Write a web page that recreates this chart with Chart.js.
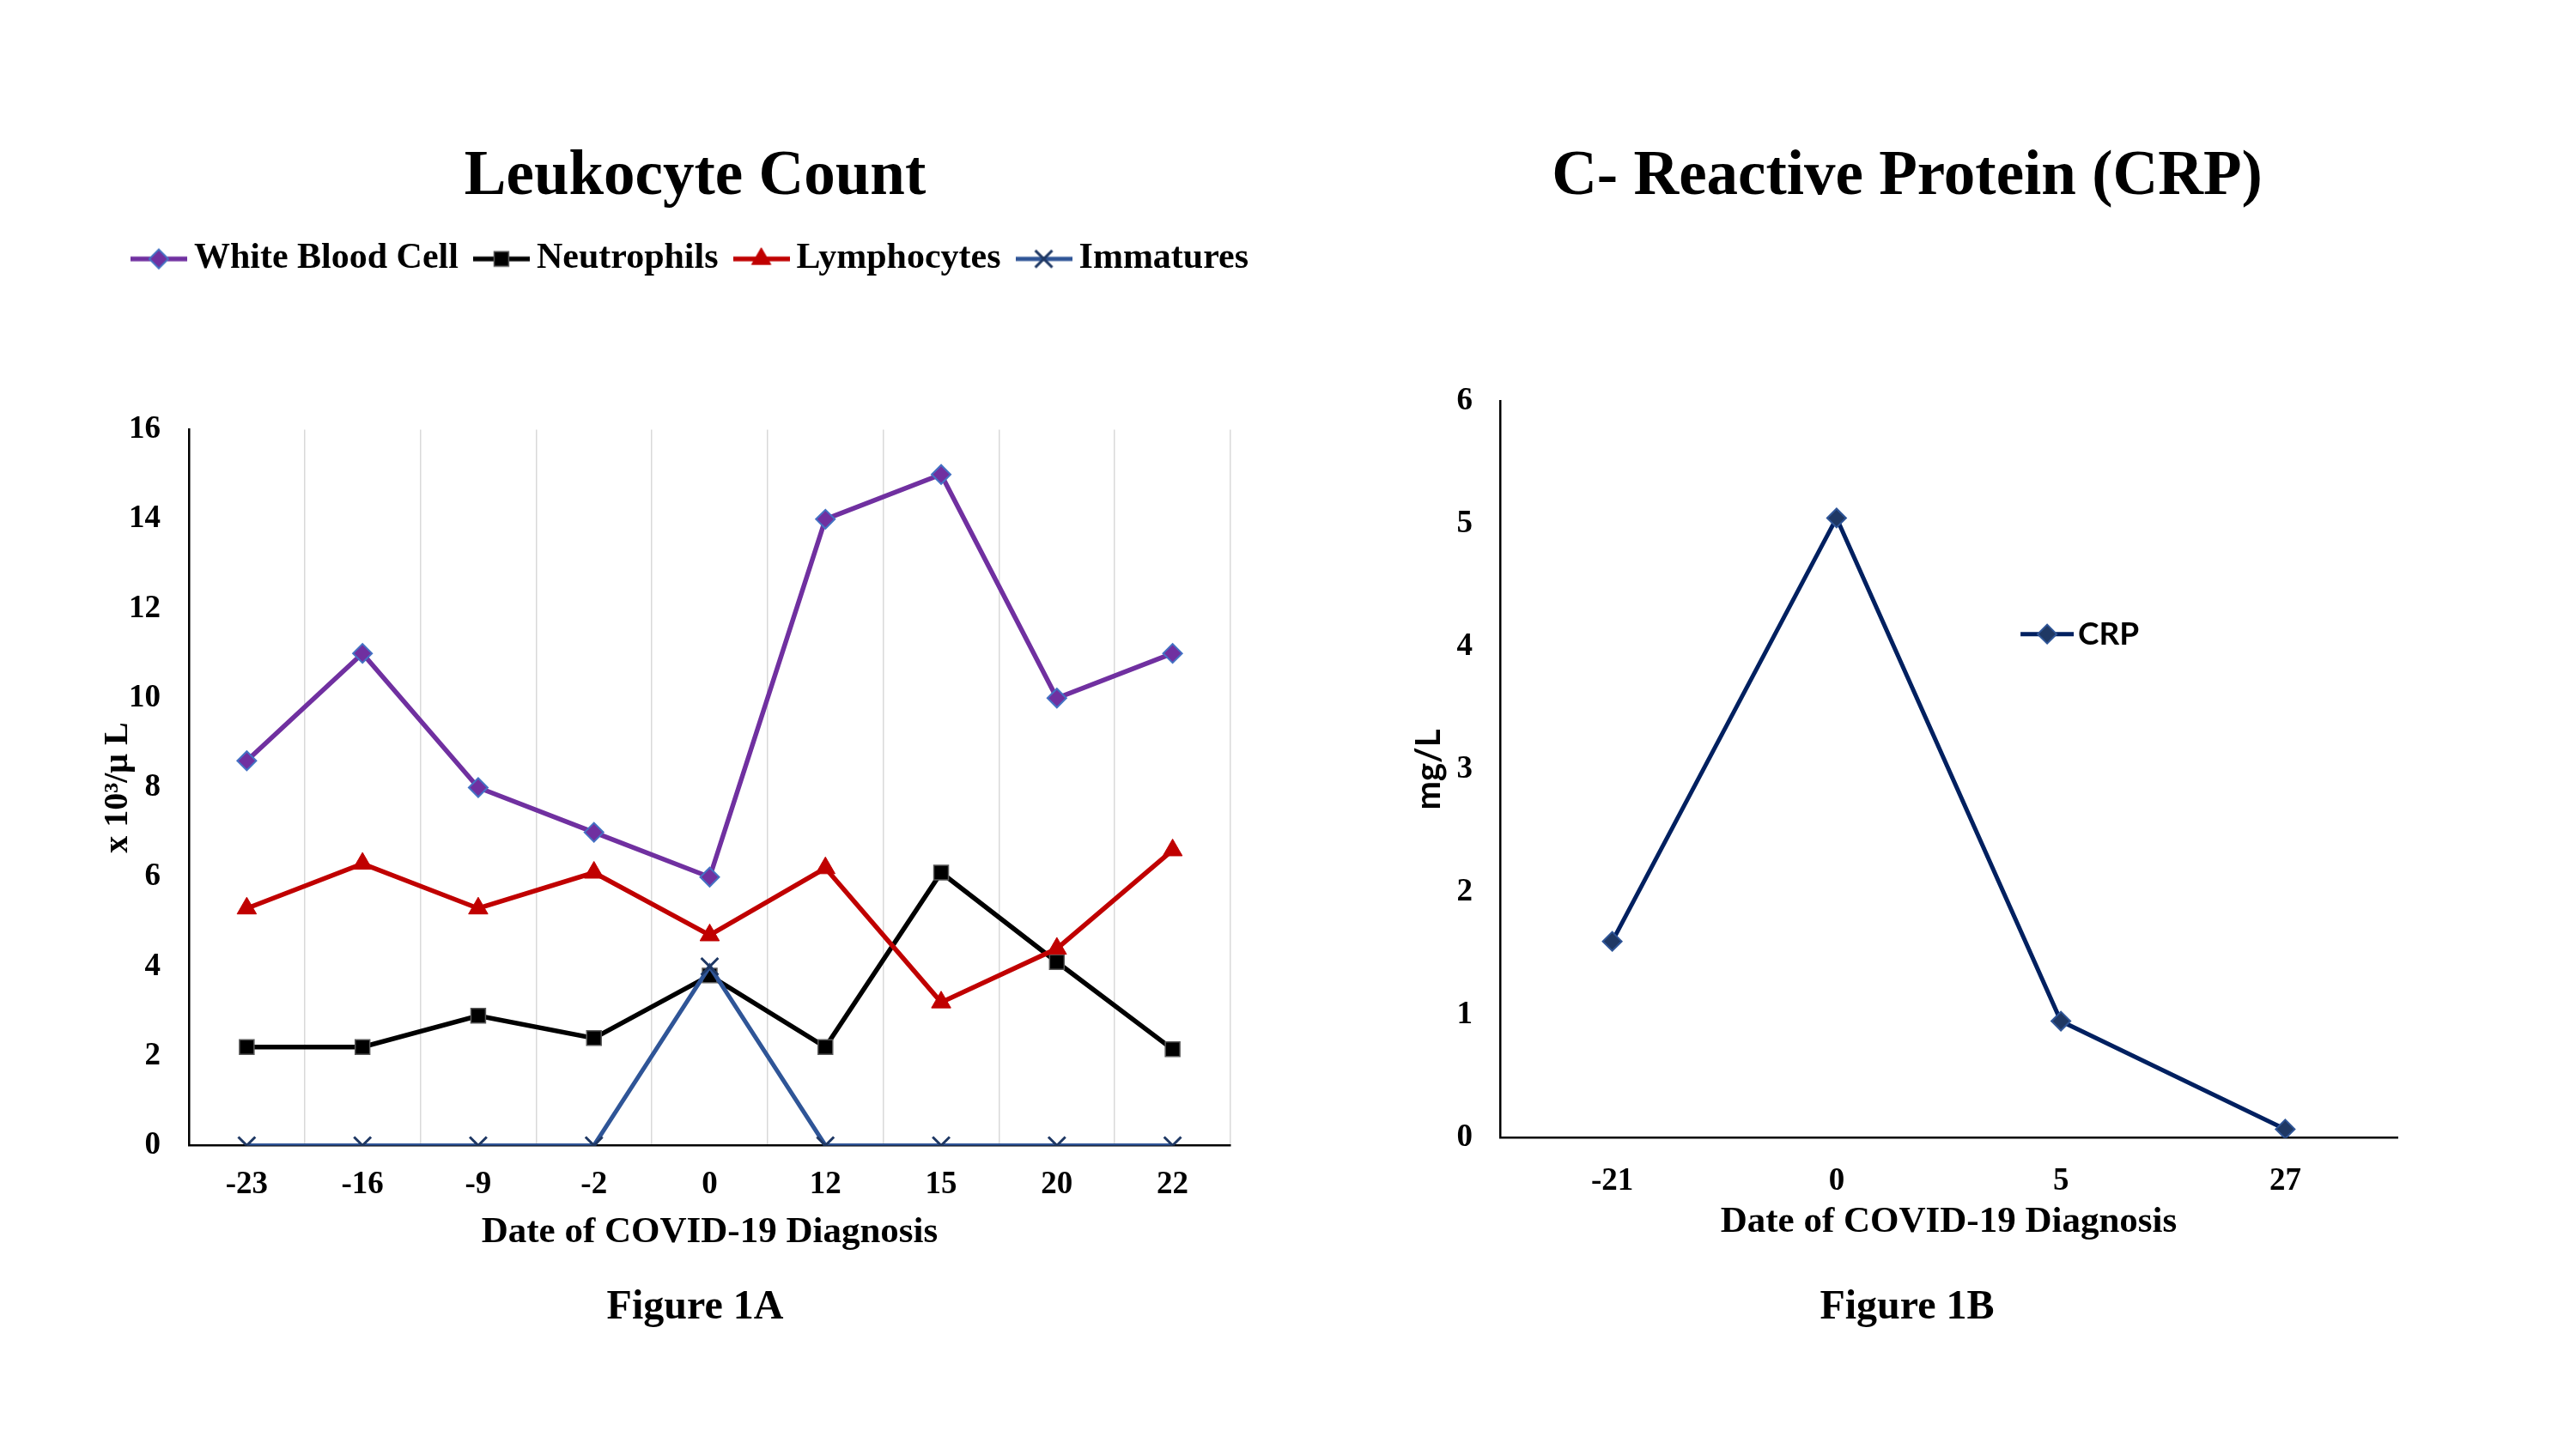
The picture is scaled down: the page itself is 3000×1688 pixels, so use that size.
<!DOCTYPE html>
<html>
<head>
<meta charset="utf-8">
<title>Leukocyte Count and C- Reactive Protein</title>
<script src="https://cdn.jsdelivr.net/npm/chart.js"></script>
<style>
  html, body { margin: 0; padding: 0; background: #fff; }
  body { width: 3000px; height: 1688px; position: relative; overflow: hidden; }
  canvas { position: absolute; top: 0; }
  #leuko { left: 110px; }
  #crp { left: 1636px; }
</style>
</head>
<body>
<canvas id="leuko" width="1399" height="1552"></canvas>
<canvas id="crp" width="1170" height="1552"></canvas>
<script>
// Figure 1A - leukocyte counts (x 10^3 / uL)
const days = ['-23', '-16', '-9', '-2', '0', '12', '15', '20', '22'];
const wbc = [8.6, 11, 8, 7, 6, 14, 15, 10, 11];
const neutrophils = [2.2, 2.2, 2.9, 2.4, 3.8, 2.2, 6.1, 4.1, 2.15];
const lymphocytes = [5.3, 6.3, 5.3, 6.1, 4.7, 6.2, 3.2, 4.4, 6.6];
const immatures = [0, 0, 0, 0, 4, 0, 0, 0, 0];
const leukoMax = 16, leukoStep = 2;

// Figure 1B - CRP (mg/L)
const crpDays = ['-21', '0', '5', '27'];
const crp = [1.6, 5.05, 0.95, 0.07];
const crpMax = 6, crpStep = 1;

Chart.defaults.font.family = "'Liberation Serif', 'Times New Roman', serif";
Chart.defaults.font.weight = 'bold';
Chart.defaults.color = '#000';

// empty layout box, pushes the plot area away from the legend / right edge
function spacer(position, size) {
  return {
    id: 'spacer-' + position,
    beforeInit(chart) {
      Chart.layouts.addBox(chart, {
        position: position,
        weight: 500,
        options: {},
        fullSize: position === 'top',
        isHorizontal: () => position === 'top' || position === 'bottom',
        update(maxWidth, maxHeight) {
          if (this.isHorizontal()) { this.width = maxWidth; this.height = size; }
          else { this.width = size; this.height = maxHeight; }
        },
        draw() {}
      });
    }
  };
}

// excel-like legend swatch: line with the marker on it
function swatch(ds) {
  const c = document.createElement('canvas');
  c.width = 66; c.height = 32;
  const g = c.getContext('2d');
  g.strokeStyle = ds.borderColor;
  g.lineWidth = ds.borderWidth;
  g.beginPath(); g.moveTo(0, 16); g.lineTo(66, 16); g.stroke();
  g.fillStyle = ds.pointBackgroundColor;
  g.strokeStyle = ds.pointBorderColor;
  g.lineWidth = ds.pointBorderWidth;
  Chart.helpers.drawPoint(g, { pointStyle: ds.pointStyle, radius: ds.pointRadius, borderWidth: ds.pointBorderWidth, rotation: 0 }, 33, 16);
  return c;
}

new Chart(document.getElementById('leuko'), {
  type: 'line',
  data: {
    labels: days,
    datasets: [
      { label: 'White Blood Cell', data: wbc, order: 4, borderColor: '#7030A0', borderWidth: 5.5,
        pointStyle: 'rectRot', pointRadius: 11, pointBackgroundColor: '#7030A0', pointBorderColor: '#4472C4', pointBorderWidth: 2 },
      { label: 'Neutrophils', data: neutrophils, order: 3, borderColor: '#000000', borderWidth: 5.5,
        pointStyle: 'rect', pointRadius: 12, pointBackgroundColor: '#000000', pointBorderColor: '#595959', pointBorderWidth: 1.5 },
      { label: 'Lymphocytes', data: lymphocytes, order: 2, borderColor: '#C00000', borderWidth: 5.5,
        pointStyle: 'triangle', pointRadius: 13, pointBackgroundColor: '#C00000', pointBorderColor: '#C00000', pointBorderWidth: 1 },
      { label: 'Immatures', data: immatures, order: 1, borderColor: '#2F5597', borderWidth: 5,
        pointStyle: 'crossRot', pointRadius: 14, pointBackgroundColor: '#1F3864', pointBorderColor: '#1F3864', pointBorderWidth: 3 }
    ]
  },
  options: {
    responsive: false,
    devicePixelRatio: 1,
    animation: false,
    events: [],
    layout: { padding: { top: 163, left: 0, right: 0, bottom: 0 } },
    plugins: {
      title: { display: true, text: 'Leukocyte Count', font: { size: 73 }, padding: 0 },
      legend: {
        position: 'top',
        labels: {
          usePointStyle: true,
          pointStyleWidth: 40,
          padding: 30,
          font: { size: 42 },
          generateLabels: chart => chart.data.datasets.map((ds, i) => ({
            text: ds.label, pointStyle: swatch(ds), fillStyle: ds.borderColor,
            strokeStyle: ds.borderColor, lineWidth: 0, hidden: false, datasetIndex: i, fontColor: '#000'
          }))
        }
      },
      subtitle: { display: true, position: 'bottom', text: 'Figure 1A', color: '#000', font: { size: 48, weight: 'bold' }, padding: { top: 29, bottom: 0 } },
      tooltip: { enabled: false }
    },
    scales: {
      x: {
        offset: true,
        grid: { offset: true, color: '#D9D9D9', lineWidth: 1.5, drawTicks: false },
        border: { color: '#000', width: 2.5 },
        ticks: { padding: 24, font: { size: 37 } },
        title: { display: true, text: 'Date of COVID-19 Diagnosis', font: { size: 43 }, padding: { top: 4, bottom: 4 } },
        afterFit: s => { s.height = 131; }
      },
      y: {
        min: 0, max: leukoMax,
        grid: { display: false },
        border: { color: '#000', width: 2.5 },
        ticks: { stepSize: leukoStep, padding: 25, font: { size: 37 } },
        title: { display: true, text: 'x 10³/μ L', font: { size: 40 }, padding: { top: 4, bottom: 4 } },
        afterFit: s => { s.width = 110; }
      }
    }
  },
  plugins: [spacer('top', 168), spacer('right', 76)]
});

// CRP legend sits inside the plot area
const crpLegend = {
  id: 'crpLegend',
  afterDatasetsDraw(chart) {
    const { ctx, chartArea: a } = chart;
    const ds = chart.data.datasets[0];
    const x = a.left + (a.right - a.left) * 0.58;
    const y = a.top + (a.bottom - a.top) * 0.316;
    ctx.save();
    ctx.strokeStyle = ds.borderColor;
    ctx.lineWidth = ds.borderWidth;
    ctx.beginPath(); ctx.moveTo(x, y); ctx.lineTo(x + 62, y); ctx.stroke();
    ctx.fillStyle = ds.pointBackgroundColor;
    ctx.strokeStyle = ds.pointBorderColor;
    ctx.lineWidth = ds.pointBorderWidth;
    Chart.helpers.drawPoint(ctx, { pointStyle: ds.pointStyle, radius: ds.pointRadius, borderWidth: ds.pointBorderWidth, rotation: 0 }, x + 31, y);
    ctx.fillStyle = '#000';
    ctx.font = 'bold 37px Lato, sans-serif';
    ctx.textBaseline = 'middle';
    ctx.fillText(ds.label, x + 67, y);
    ctx.restore();
  }
};

new Chart(document.getElementById('crp'), {
  type: 'line',
  data: {
    labels: crpDays,
    datasets: [
      { label: 'CRP', data: crp, borderColor: '#002060', borderWidth: 5,
        pointStyle: 'rectRot', pointRadius: 11, pointBackgroundColor: '#1F3864', pointBorderColor: '#2F5597', pointBorderWidth: 2 }
    ]
  },
  options: {
    responsive: false,
    devicePixelRatio: 1,
    animation: false,
    events: [],
    layout: { padding: { top: 163, left: 0, right: 0, bottom: 0 } },
    plugins: {
      title: { display: true, text: 'C- Reactive Protein (CRP)', font: { size: 73 }, padding: 0 },
      legend: { display: false },
      subtitle: { display: true, position: 'bottom', text: 'Figure 1B', color: '#000', font: { size: 48, weight: 'bold' }, padding: { top: 41, bottom: 0 } },
      tooltip: { enabled: false }
    },
    scales: {
      x: {
        offset: true,
        grid: { display: false },
        border: { color: '#000', width: 2.5 },
        ticks: { padding: 21, font: { size: 37 } },
        title: { display: true, text: 'Date of COVID-19 Diagnosis', font: { size: 43 }, padding: { top: 4, bottom: 4 } },
        afterFit: s => { s.height = 128; }
      },
      y: {
        min: 0, max: crpMax,
        grid: { display: false },
        border: { color: '#000', width: 2.5 },
        ticks: { stepSize: crpStep, padding: 24, font: { size: 37 } },
        title: { display: true, text: 'mg/L', font: { family: 'Lato, sans-serif', size: 40 }, padding: { top: 4, bottom: 4 } },
        afterFit: s => { s.width = 111; }
      }
    }
  },
  plugins: [spacer('top', 217), spacer('right', 14), crpLegend]
});
</script>
</body>
</html>
